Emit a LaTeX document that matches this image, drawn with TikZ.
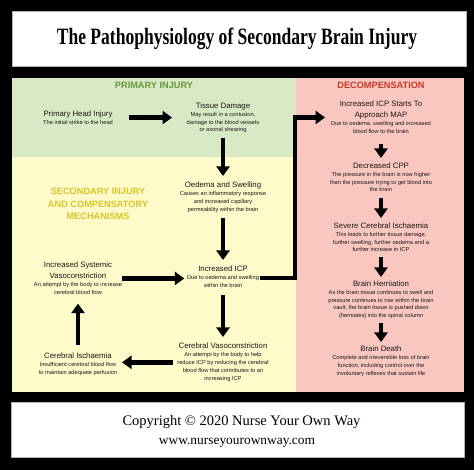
\documentclass[tikz,border=0pt]{standalone}
\usepackage{fontspec}
\usepackage{graphicx}
\setmainfont{Liberation Sans}
\newfontfamily\serifT{Liberation Serif}
\usetikzlibrary{arrows.meta}
\definecolor{bgGreen}{RGB}{215,234,197}
\definecolor{bgYellow}{RGB}{254,250,201}
\definecolor{bgPink}{RGB}{250,198,192}
\definecolor{hdGreen}{RGB}{106,150,58}
\definecolor{hdYellow}{RGB}{212,199,40}
\definecolor{hdRed}{RGB}{198,58,40}
\definecolor{txt}{RGB}{25,25,25}
\newcommand\boxtitle[1]{{\fontsize{7.8}{9}\selectfont #1}}
\begin{document}
\begin{tikzpicture}[x=1pt,y=-1pt,
  stepbox/.style={align=center, inner sep=0pt, outer sep=0pt, anchor=north, text=txt,
    font=\fontsize{5.7}{7.8}\selectfont},
  header/.style={anchor=base, inner sep=0pt, font=\fontsize{9.2}{12.8}\selectfont\bfseries},
  arr/.style={line width=4.5pt, draw=black, line join=miter, -{Triangle[length=9.5pt,width=13pt]}},
  whitebox/.style={fill=white, draw=gray!60, line width=0.8pt}]
\useasboundingbox (0,0) rectangle (474,470);
\fill[black] (0,0) rectangle (474,470);
% frames
\draw[whitebox] (12,11) rectangle (466,66);
\fill[bgGreen] (12,78) rectangle (296,157);
\fill[bgYellow] (12,157) rectangle (296,392);
\fill[bgPink] (296,78) rectangle (464,392);
\draw[whitebox] (11,402) rectangle (464,457);
% title
\node[anchor=base, inner sep=0pt] (title) at (237,45)
  {\scalebox{0.75}[1]{\serifT\fontsize{23.4}{26}\selectfont\bfseries The Pathophysiology of Secondary Brain Injury}};
% headers
\node[header, text=hdGreen] (hprim) at (154,89) {PRIMARY INJURY};
\node[header, text=hdRed] (hdec) at (381,89) {DECOMPENSATION};
\node[header, anchor=north, align=center, text=hdYellow] (hsec) at (98,187.7)
  {SECONDARY INJURY\\AND COMPENSATORY\\MECHANISMS};
% left / centre nodes
\node[stepbox] (phi) at (78,110.8) {\boxtitle{Primary Head Injury}\\The initial strike to the head};
\node[stepbox] (td) at (223,102.8) {\boxtitle{Tissue Damage}\\May result in a contusion,\\damage to the blood vessels\\or axonal shearing};
\node[stepbox] (oe) at (223,182.3) {\boxtitle{Oedema and Swelling}\\Causes an inflammatory response\\and increased capillary\\permeability within the brain};
\node[stepbox] (icp) at (223,266.3) {\boxtitle{Increased ICP}\\Due to oedema and swelling\\within the brain};
\node[stepbox] (cv) at (223,343.3) {\boxtitle{Cerebral Vasoconstriction}\\An attempt by the body to help\\reduce ICP by reducing the cerebral\\blood flow that contributes to an\\increasing ICP};
\node[stepbox] (ci) at (78,353.3) {\boxtitle{Cerebral Ischaemia}\\Insufficient cerebral blood flow\\to maintain adequate perfusion};
\node[stepbox] (isv) at (78,262.3) {\boxtitle{Increased Systemic}\\[3.2pt]\boxtitle{Vasoconstriction}\\An attempt by the body to increase\\cerebral blood flow};
% right column
\node[stepbox] (map) at (381,101.3) {\boxtitle{Increased ICP Starts To}\\[3.2pt]\boxtitle{Approach MAP}\\Due to oedema, swelling and increased\\blood flow to the brain};
\node[stepbox] (cpp) at (381,162.8) {\boxtitle{Decreased CPP}\\The pressure in the brain is now higher\\than the pressure trying to get blood into\\the brain};
\node[stepbox] (sci) at (381,222.8) {\boxtitle{Severe Cerebral Ischaemia}\\This leads to further tissue damage,\\further swelling, further oedema and a\\further increase in ICP};
\node[stepbox] (bh) at (381,280.8) {\boxtitle{Brain Herniation}\\As the brain tissue continues to swell and\\pressure continues to rise within the brain\\vault, the brain tissue is pushed down\\(herniates) into the spinal column};
\node[stepbox] (bd) at (381,346.3) {\boxtitle{Brain Death}\\Complete and irreversible loss of brain\\function, including control over the\\involuntary reflexes that sustain life};
% copyright
\node[anchor=base, inner sep=0pt, font=\serifT\fontsize{14.5}{16}\selectfont] (copy) at (241.5,425.5) {Copyright © 2020 Nurse Your Own Way};
\node[anchor=base, inner sep=0pt, font=\serifT\fontsize{13.4}{15}\selectfont] (web) at (237,444) {www.nurseyourownway.com};
% connectors
\coordinate (bend) at (295,0);
\draw[arr, shorten <=16.5pt, shorten >=14.7pt] (phi) -- (phi -| td.west);
\draw[arr, shorten <=4.8pt, shorten >=6.3pt] (td) -- (oe);
\draw[arr, shorten <=5.3pt, shorten >=6.3pt] (oe) -- (icp);
\draw[arr, shorten <=7.3pt, shorten >=6.3pt] (icp) -- (cv);
\draw[arr, shorten <=4.7pt, shorten >=4.9pt] (cv) -- (cv -| ci.east);
\draw[arr, shorten <=8.3pt, shorten >=9pt] (ci) -- (isv);
\draw[arr, shorten <=0pt, shorten >=2.7pt] (isv) -- (isv -| icp.west);
\draw[arr, shorten <=1.5pt, shorten >=6pt] ([yshift=-1pt]icp.east) -- ([yshift=-1pt]icp.east -| bend) |- (map.west);
\draw[arr, shorten <=10.3pt, shorten >=4.8pt] (map) -- (cpp);
\draw[arr, shorten <=6pt, shorten >=4.8pt] (cpp) -- (sci);
\draw[arr, shorten <=5.3pt, shorten >=3.8pt] (sci) -- (bh);
\draw[arr, shorten <=4.1pt, shorten >=4.3pt] (bh) -- (bd);
\end{tikzpicture}
\end{document}
